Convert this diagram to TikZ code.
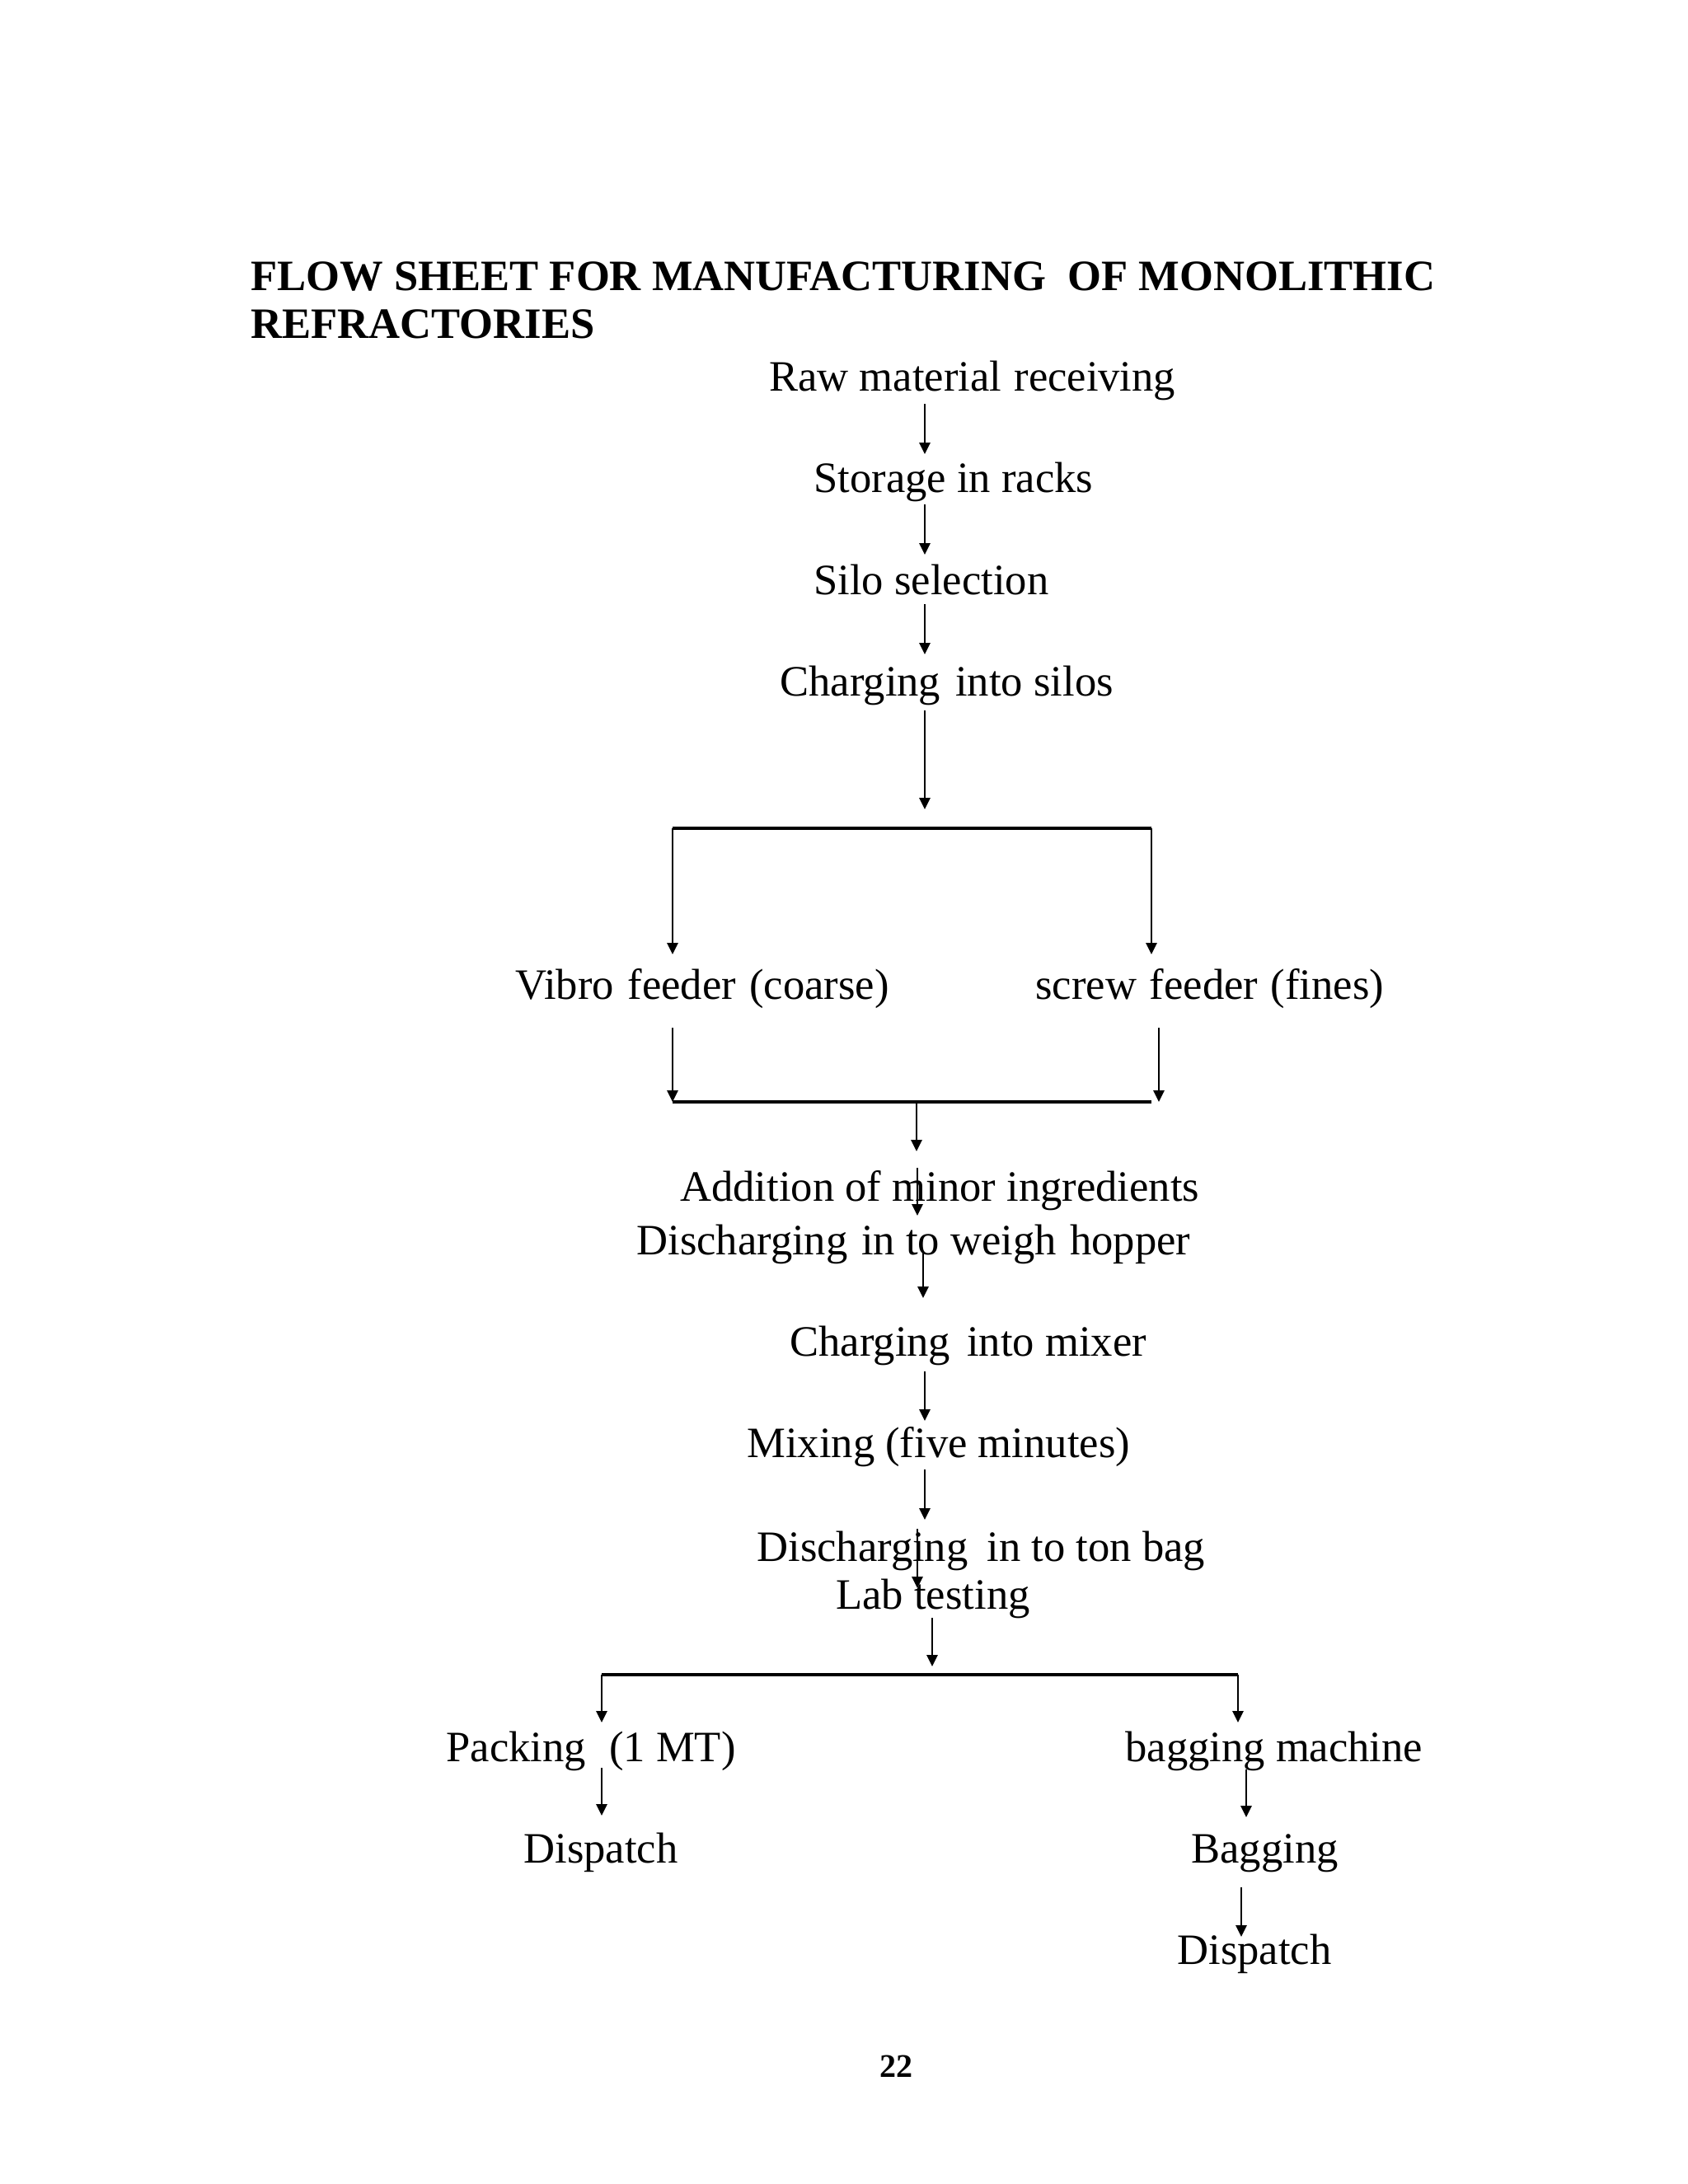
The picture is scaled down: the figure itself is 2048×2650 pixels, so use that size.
\documentclass[tikz,border=0pt]{standalone}
\usepackage{fontspec}
\setmainfont{Liberation Serif}
\usetikzlibrary{arrows.meta}
\newcommand{\xg}[1]{\hspace{#1pt}}
\tikzset{
  lbl/.style={anchor=base west, inner sep=0pt, font=\fontsize{26.3}{31}\selectfont},
  ttl/.style={anchor=base west, inner sep=0pt, font=\fontsize{26.3}{31}\selectfont\bfseries},
  arr/.style={line width=1.4pt, -{Triangle[length=7pt,width=6.5pt]}},
  bar/.style={line width=1.8pt}
}
\begin{document}
\begin{tikzpicture}[x=0.5pt,y=-0.5pt]
\useasboundingbox[fill=white] (0,0) rectangle (2048,2650);
% title
\node[ttl] (t1) at (304,352) {FLOW SHEET FOR MANUFACTURING \ OF MONOLITHIC};
\node[ttl] (t2) at (304,410) {REFRACTORIES};
% steps
\node[lbl] (raw) at (933,474) {Raw material \xg{1}receiving};
\node[lbl] (sto) at (987,597) {Storage in racks};
\node[lbl] (silo) at (987,721) {Silo selection};
\node[lbl] (chs) at (946,844) {Charging \xg{2.5}into silos};
\node[lbl] (vib) at (625,1212) {Vibro \xg{1.7}feeder \xg{1.7}(coarse)};
\node[lbl] (scr) at (1256,1212) {screw \xg{1.3}feeder \xg{1.3}(fines)};
\node[lbl] (add) at (825,1457) {Addition of minor ingredients};
\node[lbl] (dwh) at (772,1522) {Discharging \xg{1.7}in to weigh \xg{1.7}hopper};
\node[lbl] (chm) at (958,1645) {Charging \xg{3.4}into mixer};
\node[lbl] (mix) at (906,1768) {Mixing (five minutes)};
\node[lbl] (dtb) at (918,1894) {Discharging \xg{5}in to ton bag};
\node[lbl] (lab) at (1014,1952) {Lab testing};
\node[lbl] (pack) at (541,2137) {Packing \xg{7.6}(1 MT)};
\node[lbl] (bgm) at (1365,2137) {bagging machine};
\node[lbl] (dis1) at (635,2260) {Dispatch};
\node[lbl] (bag) at (1445,2260) {Bagging};
\node[lbl] (dis2) at (1428,2383) {Dispatch};
\node[anchor=base, inner sep=0pt, font=\fontsize{20}{24}\selectfont\bfseries] (pg) at (1087,2520) {22};
% coordinates for connector ends
\coordinate (a1s) at (1122,490);  \coordinate (a1e) at (1122,551);
\coordinate (a2s) at (1122,612);  \coordinate (a2e) at (1122,673);
\coordinate (a3s) at (1122,733);  \coordinate (a3e) at (1122,794);
\coordinate (a4s) at (1122,862);  \coordinate (a4e) at (1122,982);
\coordinate (s1l) at (816,1005);  \coordinate (s1r) at (1397,1005);
\coordinate (vibin) at (816,1158); \coordinate (scrin) at (1397,1158);
\coordinate (vibout) at (816,1247); \coordinate (vibend) at (816,1337);
\coordinate (scrout) at (1406,1247); \coordinate (scrend) at (1406,1337);
\coordinate (j1l) at (816,1337);  \coordinate (j1r) at (1397,1337);
\coordinate (c1s) at (1112,1337); \coordinate (c1e) at (1112,1397);
\coordinate (c2s) at (1113,1417); \coordinate (c2e) at (1113,1475);
\coordinate (c3s) at (1120,1520); \coordinate (c3e) at (1120,1575);
\coordinate (d1s) at (1122,1664); \coordinate (d1e) at (1122,1724);
\coordinate (d2s) at (1122,1783); \coordinate (d2e) at (1122,1844);
\coordinate (d3s) at (1113,1855); \coordinate (d3e) at (1113,1927);
\coordinate (d4s) at (1131,1963); \coordinate (d4e) at (1131,2022);
\coordinate (s2l) at (730,2032);  \coordinate (s2r) at (1502,2032);
\coordinate (packin) at (730,2090); \coordinate (bgmin) at (1502,2090);
\coordinate (e1s) at (730,2145);  \coordinate (e1e) at (730,2203);
\coordinate (e2s) at (1512,2147); \coordinate (e2e) at (1512,2205);
\coordinate (e3s) at (1506,2290); \coordinate (e3e) at (1506,2350);
% connectors
\draw[arr] (a1s) -- (a1e);
\draw[arr] (a2s) -- (a2e);
\draw[arr] (a3s) -- (a3e);
\draw[arr] (a4s) -- (a4e);
\draw[bar] (s1l) -- (s1r);
\draw[arr] (s1l) -- (vibin);
\draw[arr] (s1r) -- (scrin);
\draw[arr] (vibout) -- (vibend);
\draw[arr] (scrout) -- (scrend);
\draw[bar] (j1l) -- (j1r);
\draw[arr] (c1s) -- (c1e);
\draw[arr] (c2s) -- (c2e);
\draw[arr] (c3s) -- (c3e);
\draw[arr] (d1s) -- (d1e);
\draw[arr] (d2s) -- (d2e);
\draw[arr] (d3s) -- (d3e);
\draw[arr] (d4s) -- (d4e);
\draw[bar] (s2l) -- (s2r);
\draw[arr] (s2l) -- (packin);
\draw[arr] (s2r) -- (bgmin);
\draw[arr] (e1s) -- (e1e);
\draw[arr] (e2s) -- (e2e);
\draw[arr] (e3s) -- (e3e);
\end{tikzpicture}
\end{document}
